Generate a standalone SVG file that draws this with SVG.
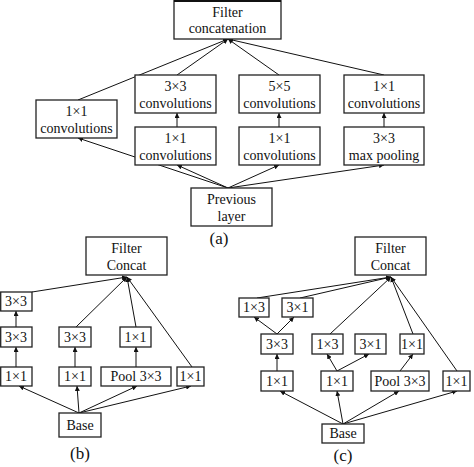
<svg xmlns="http://www.w3.org/2000/svg" width="474" height="467" viewBox="0 0 474 467">
<defs>
<marker id="ah" viewBox="0 0 6 6" refX="6" refY="3" markerWidth="5" markerHeight="5" orient="auto" markerUnits="userSpaceOnUse">
<path d="M0,0 L6,3 L0,6 z" fill="#111"/>
</marker>
<style>
.b{fill:#fff;stroke:#222;stroke-width:1.3}
.t{font-family:"Liberation Serif","Times New Roman",serif;font-size:14px;fill:#111;text-anchor:middle}
.l{font-family:"Liberation Serif","Times New Roman",serif;font-size:17px;fill:#111;text-anchor:middle}
.c line{stroke:#111;stroke-width:1;marker-end:url(#ah)}
</style>
</defs>
<rect width="474" height="467" fill="#fff"/>

<g class="c" id="connectors">
<!-- (a) -->
<line x1="78" y1="100" x2="228" y2="39"/>
<line x1="177" y1="75" x2="228" y2="39"/>
<line x1="279" y1="75" x2="228" y2="39"/>
<line x1="384" y1="75" x2="228" y2="39"/>
<line x1="177" y1="127" x2="177" y2="113"/>
<line x1="279" y1="127" x2="279" y2="113"/>
<line x1="384" y1="127" x2="384" y2="113"/>
<line x1="228" y1="188" x2="78" y2="138"/>
<line x1="228" y1="188" x2="177" y2="165"/>
<line x1="228" y1="188" x2="279" y2="165"/>
<line x1="228" y1="188" x2="384" y2="165"/>
<!-- (b) -->
<line x1="32" y1="292" x2="127" y2="277"/>
<line x1="76" y1="327" x2="127" y2="277"/>
<line x1="136" y1="327" x2="127" y2="277"/>
<line x1="192" y1="367" x2="127" y2="277"/>
<line x1="16" y1="327" x2="16" y2="311"/>
<line x1="16" y1="367" x2="16" y2="347"/>
<line x1="75" y1="367" x2="75" y2="347"/>
<line x1="136" y1="367" x2="136" y2="347"/>
<line x1="79" y1="413" x2="19" y2="386"/>
<line x1="79" y1="413" x2="77" y2="386"/>
<line x1="79" y1="413" x2="137" y2="386"/>
<line x1="79" y1="413" x2="191" y2="386"/>
<!-- (c) -->
<line x1="257" y1="298" x2="391" y2="277"/>
<line x1="300" y1="298" x2="391" y2="277"/>
<line x1="330" y1="334" x2="391" y2="277"/>
<line x1="413" y1="334" x2="391" y2="277"/>
<line x1="457" y1="371" x2="391" y2="277"/>
<line x1="277" y1="334" x2="254" y2="317"/>
<line x1="277" y1="334" x2="294" y2="317"/>
<line x1="277" y1="371" x2="277" y2="354"/>
<line x1="337" y1="371" x2="327" y2="354"/>
<line x1="337" y1="371" x2="369" y2="354"/>
<line x1="400" y1="371" x2="413" y2="354"/>
<line x1="343" y1="424" x2="280" y2="391"/>
<line x1="343" y1="424" x2="337" y2="391"/>
<line x1="343" y1="424" x2="399" y2="391"/>
<line x1="343" y1="424" x2="457" y2="391"/>
</g>

<!-- (a) nodes -->
<g id="a-concat"><rect class="b" x="174" y="0.7" width="107" height="38.3"/><rect x="174" y="0" width="107" height="2" fill="#111"/><text class="t" x="227.5" y="17">Filter</text><text class="t" x="227.5" y="33">concatenation</text></g>
<g id="a-1x1-left"><rect class="b" x="36" y="100" width="81" height="38"/><text class="t" x="76.5" y="116">1×1</text><text class="t" x="76.5" y="133">convolutions</text></g>
<g id="a-3x3"><rect class="b" x="135" y="75" width="81" height="38"/><text class="t" x="175.5" y="91">3×3</text><text class="t" x="175.5" y="108">convolutions</text></g>
<g id="a-5x5"><rect class="b" x="239" y="75" width="81" height="38"/><text class="t" x="279.5" y="91">5×5</text><text class="t" x="279.5" y="108">convolutions</text></g>
<g id="a-1x1-right"><rect class="b" x="344" y="75" width="80" height="38"/><text class="t" x="384" y="91">1×1</text><text class="t" x="384" y="108">convolutions</text></g>
<g id="a-1x1-b1"><rect class="b" x="135" y="127" width="81" height="38"/><text class="t" x="175.5" y="143">1×1</text><text class="t" x="175.5" y="160">convolutions</text></g>
<g id="a-1x1-b2"><rect class="b" x="239" y="127" width="81" height="38"/><text class="t" x="279.5" y="143">1×1</text><text class="t" x="279.5" y="160">convolutions</text></g>
<g id="a-pool"><rect class="b" x="344" y="127" width="80" height="38"/><text class="t" x="384" y="143">3×3</text><text class="t" x="384" y="160">max pooling</text></g>
<g id="a-prev"><rect class="b" x="191" y="188" width="81" height="38"/><text class="t" x="231.5" y="204">Previous</text><text class="t" x="231.5" y="221">layer</text></g>
<text class="l" x="219" y="244">(a)</text>

<!-- (b) nodes -->
<g id="b-concat"><rect class="b" x="86" y="237" width="81" height="38"/><text class="t" x="126.5" y="253">Filter</text><text class="t" x="126.5" y="270">Concat</text></g>
<g id="b-3x3-1"><rect class="b" x="0.7" y="292" width="31.3" height="19"/><text class="t" x="16" y="306">3×3</text></g>
<g id="b-3x3-2"><rect class="b" x="0.7" y="327" width="31.3" height="20"/><text class="t" x="16" y="342">3×3</text></g>
<g id="b-1x1-1"><rect class="b" x="0.7" y="367" width="31.3" height="19"/><text class="t" x="16" y="381">1×1</text></g>
<g id="b-3x3-3"><rect class="b" x="59" y="327" width="32" height="20"/><text class="t" x="75" y="342">3×3</text></g>
<g id="b-1x1-2"><rect class="b" x="59" y="367" width="32" height="19"/><text class="t" x="75" y="381">1×1</text></g>
<g id="b-1x1-3"><rect class="b" x="120" y="327" width="31" height="20"/><text class="t" x="135.5" y="342">1×1</text></g>
<g id="b-pool"><rect class="b" x="101" y="367" width="70" height="19"/><text class="t" x="136" y="381">Pool 3×3</text></g>
<g id="b-1x1-4"><rect class="b" x="177" y="367" width="27" height="19"/><text class="t" x="190.5" y="381">1×1</text></g>
<g id="b-base"><rect class="b" x="59" y="413" width="42" height="24"/><text class="t" x="80" y="430">Base</text></g>
<text class="l" x="80" y="459">(b)</text>

<!-- (c) nodes -->
<g id="c-concat"><rect class="b" x="355" y="237" width="71" height="38"/><text class="t" x="390.5" y="253">Filter</text><text class="t" x="390.5" y="270">Concat</text></g>
<g id="c-1x3-top"><rect class="b" x="239" y="298" width="30" height="19"/><text class="t" x="254" y="312">1×3</text></g>
<g id="c-3x1-top"><rect class="b" x="282" y="298" width="31" height="19"/><text class="t" x="297.5" y="312">3×1</text></g>
<g id="c-3x3"><rect class="b" x="261" y="334" width="32" height="20"/><text class="t" x="277" y="349">3×3</text></g>
<g id="c-1x3-mid"><rect class="b" x="312" y="334" width="31" height="20"/><text class="t" x="327.5" y="349">1×3</text></g>
<g id="c-3x1-mid"><rect class="b" x="355" y="334" width="31" height="20"/><text class="t" x="370.5" y="349">3×1</text></g>
<g id="c-1x1-mid"><rect class="b" x="400" y="334" width="24" height="20"/><text class="t" x="412" y="349">1×1</text></g>
<g id="c-1x1-a"><rect class="b" x="261" y="371" width="32" height="20"/><text class="t" x="277" y="386">1×1</text></g>
<g id="c-1x1-b"><rect class="b" x="321" y="371" width="32" height="20"/><text class="t" x="337" y="386">1×1</text></g>
<g id="c-pool"><rect class="b" x="371" y="371" width="58" height="20"/><text class="t" x="400" y="386">Pool 3×3</text></g>
<g id="c-1x1-c"><rect class="b" x="443" y="371" width="27" height="20"/><text class="t" x="456.5" y="386">1×1</text></g>
<g id="c-base"><rect class="b" x="322" y="424" width="42" height="19"/><text class="t" x="343" y="438">Base</text></g>
<text class="l" x="343" y="461">(c)</text>
</svg>
